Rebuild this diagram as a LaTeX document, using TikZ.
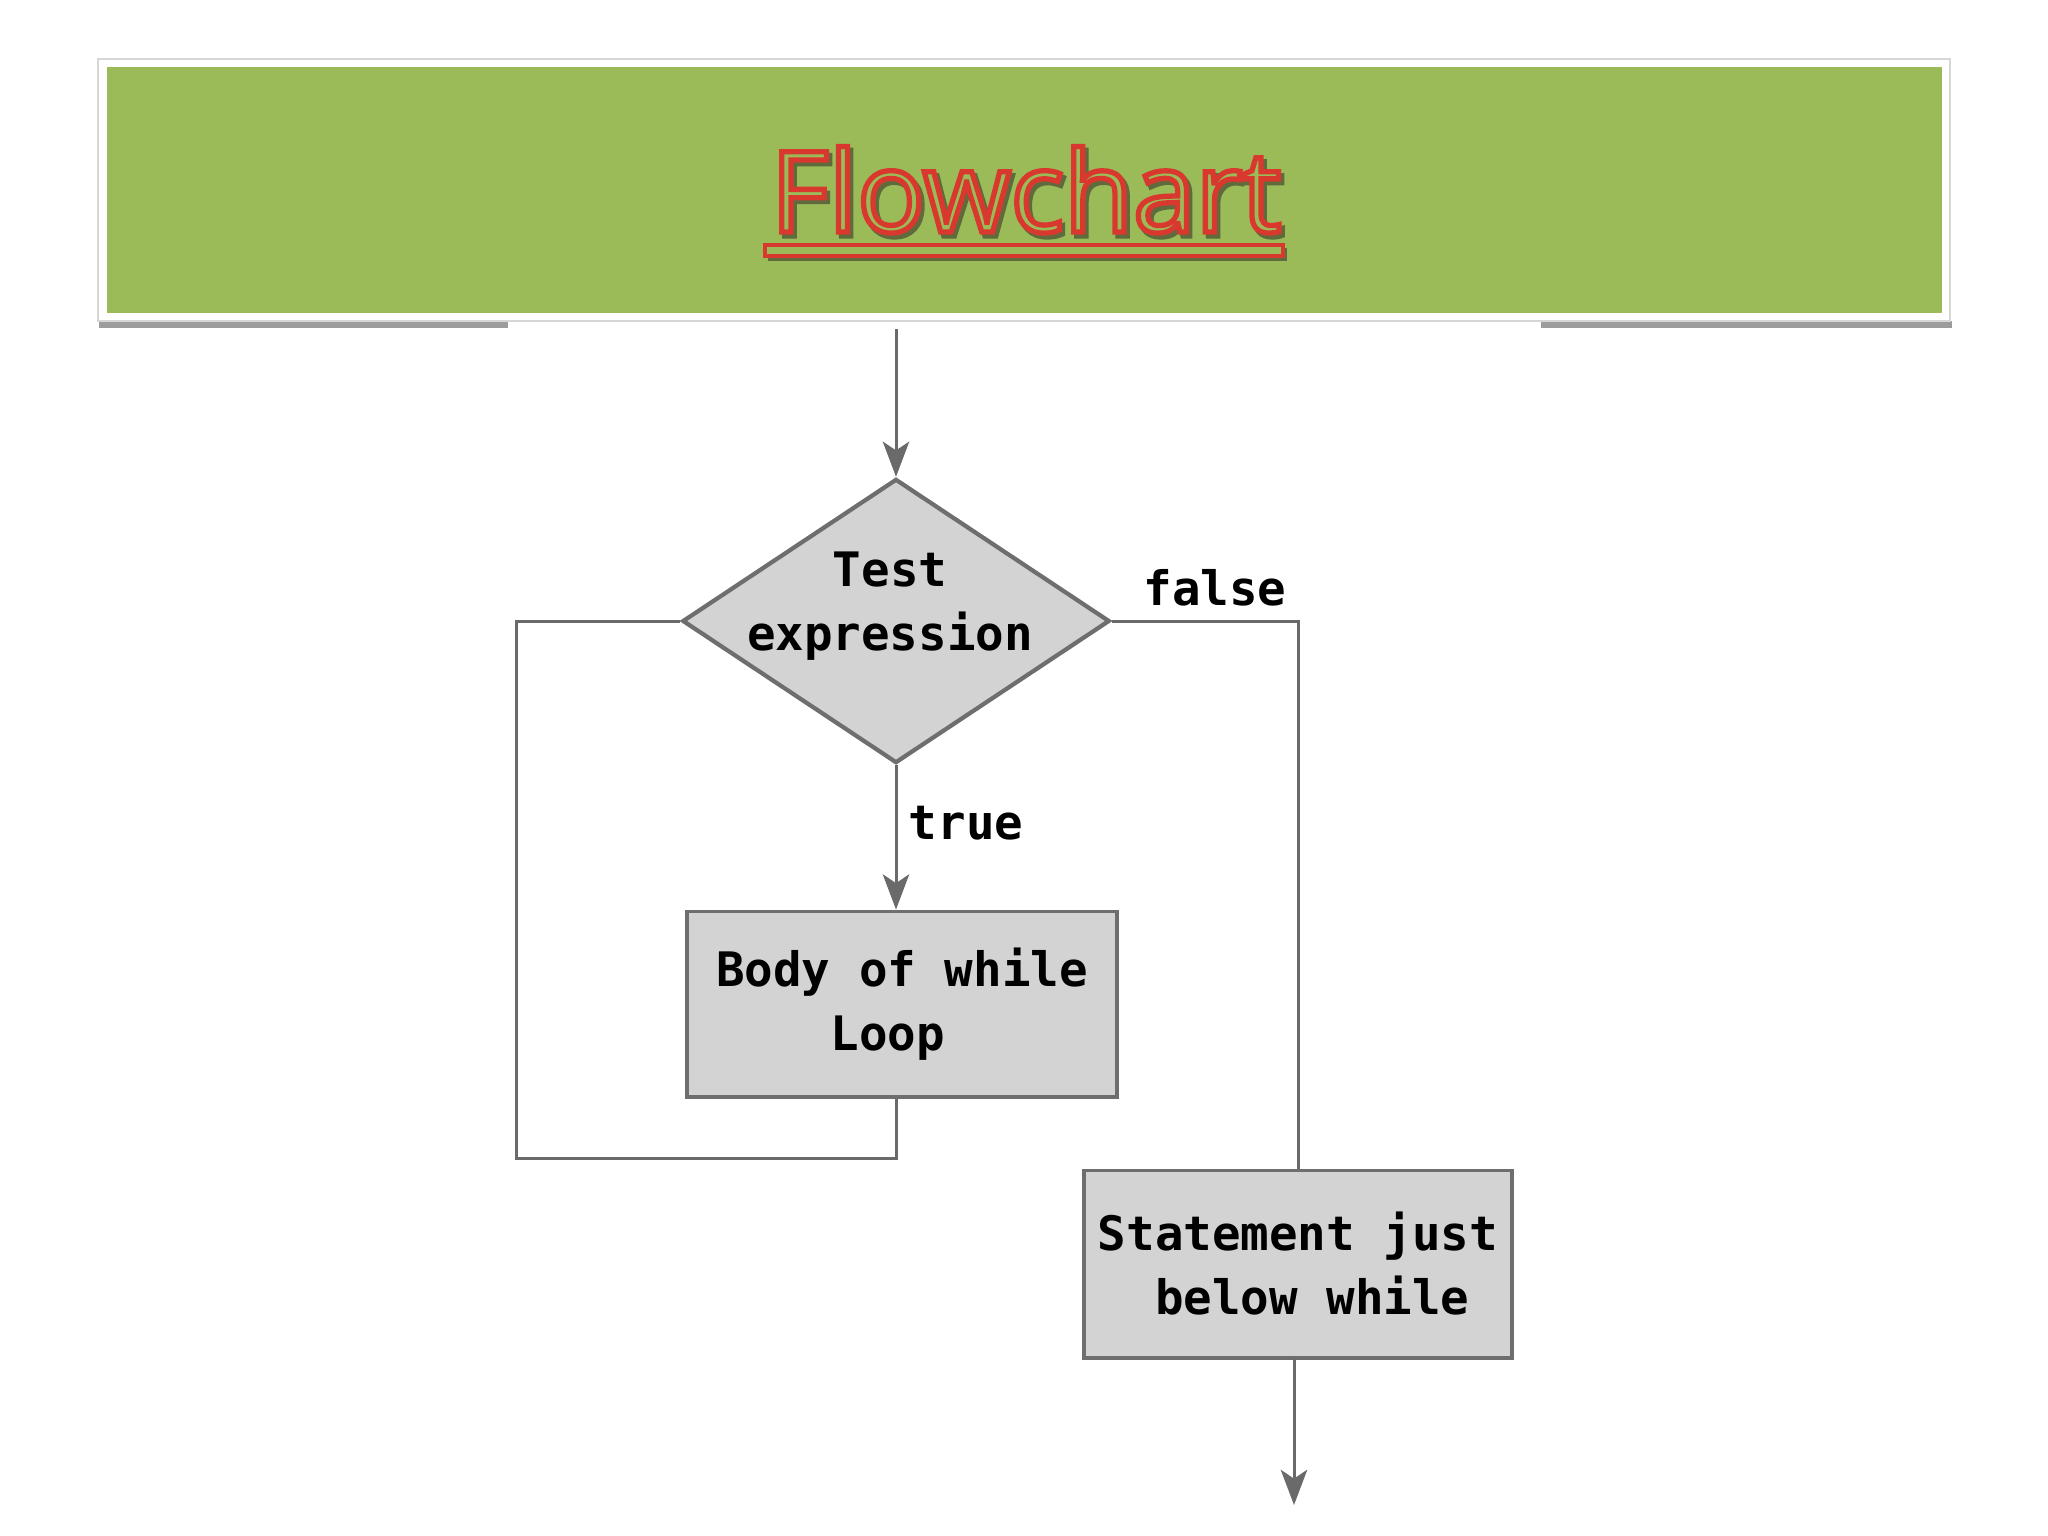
\documentclass[tikz,border=0pt]{standalone}
\usepackage{fontspec}
\newfontfamily\titlefont{Open Sans}
\newfontfamily\flowfont{DejaVu Sans Mono}
\usetikzlibrary{shapes.geometric,arrows.meta}
\definecolor{bannergreen}{HTML}{9BBB59}
\definecolor{titlered}{HTML}{D9382E}
\definecolor{titleshadow}{HTML}{5F6B3C}
\definecolor{boxfill}{HTML}{D3D3D3}
\definecolor{boxline}{HTML}{6E6E6E}
\definecolor{conn}{HTML}{6A6A6A}
\definecolor{framegray}{HTML}{D6D6D6}
\definecolor{shadowgray}{HTML}{9C9C9C}
\newcommand\outlinetext[2]{\special{pdf:literal direct 2 Tr 1.5 w #1 RG}#2}
\tikzset{
  titletext/.style={anchor=base, inner sep=0pt, font=\titlefont\fontsize{32pt}{36pt}\selectfont},
  flowtext/.style={font=\flowfont\bfseries\fontsize{13.5pt}{18.2pt}\selectfont, text=black, align=center},
  procbox/.style={flowtext, draw=boxline, fill=boxfill, line width=1.1pt, rectangle, inner sep=0pt},
  decbox/.style={draw=boxline, fill=boxfill, line width=1.2pt, diamond, inner sep=0pt},
  conline/.style={draw=conn, line width=0.85pt},
  arrowline/.style={conline, -{Stealth[length=10pt,width=7.5pt,inset=2.5pt]}},
  lbl/.style={flowtext, inner sep=0pt}
}
\begin{document}
\begin{tikzpicture}[x=0.01cm,y=-0.01cm]
\useasboundingbox (0,0) rectangle (2048,1536);
\fill[white] (0,0) rectangle (2048,1536);
% banner frame
\fill[shadowgray] (99,321) rectangle (508,328);
\fill[shadowgray] (1541,321) rectangle (1952,328);
\filldraw[fill=white, draw=framegray, line width=0.5pt] (98,59) rectangle (1950,321);
\fill[bannergreen] (107,67) rectangle (1942,313);
% title with shadow
\node[titletext, text=titleshadow, xshift=0.9pt, yshift=-1.1pt] (tshadow) at (1026,232) {\outlinetext{0.373 0.42 0.235}{Flowchart}};
\fill[titleshadow] (768,248) rectangle (1287,261);
\node[titletext, text=bannergreen] (title) at (1026,232) {\outlinetext{0.851 0.22 0.18}{Flowchart}};
\filldraw[fill=bannergreen, draw=titlered, line width=1.1pt] (765,245) rectangle (1283,256);
% flowchart
\coordinate (start) at (896,329);
\node[decbox, minimum width=4.27cm, minimum height=2.84cm] (test) at (896,621) {};
\node[flowtext, inner sep=0pt] (testtext) at (890,606) {Test\\expression};
\node[procbox, minimum width=4.30cm, minimum height=1.85cm] (body) at (902,1004) {Body of while\\Loop\hphantom{x}};
\node[procbox, minimum width=4.28cm, minimum height=1.87cm] (stmt) at (1298,1264) {Statement just\\\hphantom{x}below while};
\coordinate (loopcorner) at (516,1158);
\coordinate (finish) at (1294,1505);
\node[lbl] (falselbl) at (1215,588) {false};
\node[lbl] (truelbl) at (966,823) {true};
\draw[arrowline] (start) -- (test.north);
\draw[arrowline] (test.south) -- (test.south |- body.north);
\draw[conline] (body.south -| test.south) |- (loopcorner) |- (test.west);
\draw[conline] (test.east) -| (stmt.north);
\draw[arrowline] (stmt.south -| finish) -- (finish);
\end{tikzpicture}
\end{document}
